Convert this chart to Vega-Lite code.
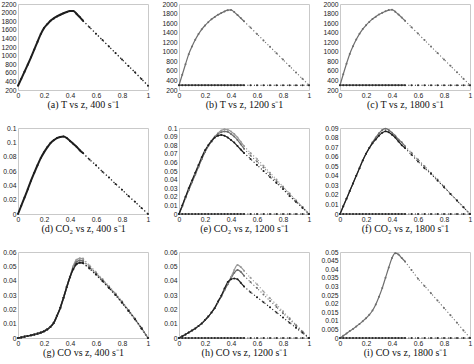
{
"$schema":"https://vega.github.io/schema/vega-lite/v6.json",
"padding":{"left":0,"top":0,"right":3,"bottom":0},
"columns":3,
"bounds":"flush",
"spacing":{"row":38,"column":31},
"resolve":{"scale":{"x":"independent","y":"independent"}},
"datasets":{
"a":[{"s":"s3","z":0,"v":300},{"s":"s3","z":0.025,"v":460},{"s":"s3","z":0.05,"v":625},{"s":"s3","z":0.075,"v":790},{"s":"s3","z":0.1,"v":960},{"s":"s3","z":0.125,"v":1140},{"s":"s3","z":0.15,"v":1320},{"s":"s3","z":0.175,"v":1500},{"s":"s3","z":0.2,"v":1640},{"s":"s3","z":0.225,"v":1730},{"s":"s3","z":0.25,"v":1810},{"s":"s3","z":0.275,"v":1865},{"s":"s3","z":0.3,"v":1910},{"s":"s3","z":0.325,"v":1950},{"s":"s3","z":0.35,"v":1985},{"s":"s3","z":0.375,"v":2015},{"s":"s3","z":0.4,"v":2035},{"s":"s3","z":0.425,"v":2040},{"s":"s3","z":0.45,"v":1975},{"s":"s3","z":0.475,"v":1895},{"s":"s3","z":0.5,"v":1810},{"s":"s3","z":0.55,"v":1660},{"s":"s3","z":0.6,"v":1510},{"s":"s3","z":0.65,"v":1360},{"s":"s3","z":0.7,"v":1210},{"s":"s3","z":0.75,"v":1060},{"s":"s3","z":0.8,"v":910},{"s":"s3","z":0.85,"v":760},{"s":"s3","z":0.9,"v":610},{"s":"s3","z":0.95,"v":455},{"s":"s3","z":1,"v":300}],
"b":[{"s":"s2","z":0,"v":300},{"s":"s2","z":0.025,"v":520},{"s":"s2","z":0.05,"v":740},{"s":"s2","z":0.075,"v":950},{"s":"s2","z":0.1,"v":1110},{"s":"s2","z":0.125,"v":1250},{"s":"s2","z":0.15,"v":1370},{"s":"s2","z":0.175,"v":1470},{"s":"s2","z":0.2,"v":1550},{"s":"s2","z":0.225,"v":1620},{"s":"s2","z":0.25,"v":1680},{"s":"s2","z":0.275,"v":1730},{"s":"s2","z":0.3,"v":1775},{"s":"s2","z":0.325,"v":1810},{"s":"s2","z":0.35,"v":1845},{"s":"s2","z":0.375,"v":1870},{"s":"s2","z":0.4,"v":1875},{"s":"s2","z":0.425,"v":1830},{"s":"s2","z":0.45,"v":1770},{"s":"s2","z":0.475,"v":1705},{"s":"s2","z":0.5,"v":1640},{"s":"s2","z":0.55,"v":1506},{"s":"s2","z":0.6,"v":1372},{"s":"s2","z":0.65,"v":1238},{"s":"s2","z":0.7,"v":1104},{"s":"s2","z":0.75,"v":970},{"s":"s2","z":0.8,"v":836},{"s":"s2","z":0.85,"v":702},{"s":"s2","z":0.9,"v":568},{"s":"s2","z":0.95,"v":434},{"s":"s2","z":1,"v":300},
{"s":"f","z":0,"v":300},{"s":"f","z":0.025,"v":300},{"s":"f","z":0.05,"v":300},{"s":"f","z":0.075,"v":300},{"s":"f","z":0.1,"v":300},{"s":"f","z":0.125,"v":300},{"s":"f","z":0.15,"v":300},{"s":"f","z":0.175,"v":300},{"s":"f","z":0.2,"v":300},{"s":"f","z":0.225,"v":300},{"s":"f","z":0.25,"v":300},{"s":"f","z":0.275,"v":300},{"s":"f","z":0.3,"v":300},{"s":"f","z":0.325,"v":300},{"s":"f","z":0.35,"v":300},{"s":"f","z":0.375,"v":300},{"s":"f","z":0.4,"v":300},{"s":"f","z":0.425,"v":300},{"s":"f","z":0.45,"v":300},{"s":"f","z":0.475,"v":300},{"s":"f","z":0.5,"v":300},{"s":"f","z":0.55,"v":300},{"s":"f","z":0.6,"v":300},{"s":"f","z":0.65,"v":300},{"s":"f","z":0.7,"v":300},{"s":"f","z":0.75,"v":300},{"s":"f","z":0.8,"v":300},{"s":"f","z":0.85,"v":300},{"s":"f","z":0.9,"v":300},{"s":"f","z":0.95,"v":300},{"s":"f","z":1,"v":300}],
"c":[{"s":"s2","z":0,"v":300},{"s":"s2","z":0.025,"v":530},{"s":"s2","z":0.05,"v":750},{"s":"s2","z":0.075,"v":955},{"s":"s2","z":0.1,"v":1115},{"s":"s2","z":0.125,"v":1255},{"s":"s2","z":0.15,"v":1375},{"s":"s2","z":0.175,"v":1475},{"s":"s2","z":0.2,"v":1555},{"s":"s2","z":0.225,"v":1625},{"s":"s2","z":0.25,"v":1685},{"s":"s2","z":0.275,"v":1735},{"s":"s2","z":0.3,"v":1780},{"s":"s2","z":0.325,"v":1815},{"s":"s2","z":0.35,"v":1848},{"s":"s2","z":0.375,"v":1872},{"s":"s2","z":0.4,"v":1880},{"s":"s2","z":0.425,"v":1840},{"s":"s2","z":0.45,"v":1780},{"s":"s2","z":0.475,"v":1715},{"s":"s2","z":0.5,"v":1650},{"s":"s2","z":0.55,"v":1515},{"s":"s2","z":0.6,"v":1380},{"s":"s2","z":0.65,"v":1245},{"s":"s2","z":0.7,"v":1110},{"s":"s2","z":0.75,"v":975},{"s":"s2","z":0.8,"v":840},{"s":"s2","z":0.85,"v":705},{"s":"s2","z":0.9,"v":570},{"s":"s2","z":0.95,"v":435},{"s":"s2","z":1,"v":300},
{"s":"f","z":0,"v":300},{"s":"f","z":0.025,"v":300},{"s":"f","z":0.05,"v":300},{"s":"f","z":0.075,"v":300},{"s":"f","z":0.1,"v":300},{"s":"f","z":0.125,"v":300},{"s":"f","z":0.15,"v":300},{"s":"f","z":0.175,"v":300},{"s":"f","z":0.2,"v":300},{"s":"f","z":0.225,"v":300},{"s":"f","z":0.25,"v":300},{"s":"f","z":0.275,"v":300},{"s":"f","z":0.3,"v":300},{"s":"f","z":0.325,"v":300},{"s":"f","z":0.35,"v":300},{"s":"f","z":0.375,"v":300},{"s":"f","z":0.4,"v":300},{"s":"f","z":0.425,"v":300},{"s":"f","z":0.45,"v":300},{"s":"f","z":0.475,"v":300},{"s":"f","z":0.5,"v":300},{"s":"f","z":0.55,"v":300},{"s":"f","z":0.6,"v":300},{"s":"f","z":0.65,"v":300},{"s":"f","z":0.7,"v":300},{"s":"f","z":0.75,"v":300},{"s":"f","z":0.8,"v":300},{"s":"f","z":0.85,"v":300},{"s":"f","z":0.9,"v":300},{"s":"f","z":0.95,"v":300},{"s":"f","z":1,"v":300}],
"d":[{"s":"s3","z":0,"v":0},{"s":"s3","z":0.025,"v":0.0115},{"s":"s3","z":0.05,"v":0.023},{"s":"s3","z":0.075,"v":0.0345},{"s":"s3","z":0.1,"v":0.0465},{"s":"s3","z":0.125,"v":0.0575},{"s":"s3","z":0.15,"v":0.068},{"s":"s3","z":0.175,"v":0.078},{"s":"s3","z":0.2,"v":0.086},{"s":"s3","z":0.225,"v":0.093},{"s":"s3","z":0.25,"v":0.099},{"s":"s3","z":0.275,"v":0.103},{"s":"s3","z":0.3,"v":0.106},{"s":"s3","z":0.325,"v":0.1075},{"s":"s3","z":0.35,"v":0.108},{"s":"s3","z":0.375,"v":0.106},{"s":"s3","z":0.4,"v":0.102},{"s":"s3","z":0.425,"v":0.098},{"s":"s3","z":0.45,"v":0.094},{"s":"s3","z":0.475,"v":0.089},{"s":"s3","z":0.5,"v":0.085},{"s":"s3","z":0.55,"v":0.076},{"s":"s3","z":0.6,"v":0.068},{"s":"s3","z":0.65,"v":0.059},{"s":"s3","z":0.7,"v":0.051},{"s":"s3","z":0.75,"v":0.042},{"s":"s3","z":0.8,"v":0.034},{"s":"s3","z":0.85,"v":0.025},{"s":"s3","z":0.9,"v":0.017},{"s":"s3","z":0.95,"v":0.0085},{"s":"s3","z":1,"v":0}],
"e":[{"s":"s1","z":0,"v":0},{"s":"s1","z":0.025,"v":0.009},{"s":"s1","z":0.05,"v":0.019},{"s":"s1","z":0.075,"v":0.028},{"s":"s1","z":0.1,"v":0.037},{"s":"s1","z":0.125,"v":0.046},{"s":"s1","z":0.15,"v":0.055},{"s":"s1","z":0.175,"v":0.064},{"s":"s1","z":0.2,"v":0.072},{"s":"s1","z":0.225,"v":0.079},{"s":"s1","z":0.25,"v":0.085},{"s":"s1","z":0.275,"v":0.09},{"s":"s1","z":0.3,"v":0.094},{"s":"s1","z":0.325,"v":0.097},{"s":"s1","z":0.35,"v":0.0985},{"s":"s1","z":0.375,"v":0.098},{"s":"s1","z":0.4,"v":0.096},{"s":"s1","z":0.425,"v":0.093},{"s":"s1","z":0.45,"v":0.089},{"s":"s1","z":0.475,"v":0.084},{"s":"s1","z":0.5,"v":0.079},{"s":"s1","z":0.55,"v":0.071},{"s":"s1","z":0.6,"v":0.064},{"s":"s1","z":0.65,"v":0.056},{"s":"s1","z":0.7,"v":0.048},{"s":"s1","z":0.75,"v":0.04},{"s":"s1","z":0.8,"v":0.032},{"s":"s1","z":0.85,"v":0.024},{"s":"s1","z":0.9,"v":0.016},{"s":"s1","z":0.95,"v":0.008},{"s":"s1","z":1,"v":0},
{"s":"s2","z":0,"v":0},{"s":"s2","z":0.025,"v":0.009},{"s":"s2","z":0.05,"v":0.019},{"s":"s2","z":0.075,"v":0.028},{"s":"s2","z":0.1,"v":0.037},{"s":"s2","z":0.125,"v":0.046},{"s":"s2","z":0.15,"v":0.055},{"s":"s2","z":0.175,"v":0.064},{"s":"s2","z":0.2,"v":0.072},{"s":"s2","z":0.225,"v":0.079},{"s":"s2","z":0.25,"v":0.084},{"s":"s2","z":0.275,"v":0.089},{"s":"s2","z":0.3,"v":0.093},{"s":"s2","z":0.325,"v":0.095},{"s":"s2","z":0.35,"v":0.096},{"s":"s2","z":0.375,"v":0.0955},{"s":"s2","z":0.4,"v":0.093},{"s":"s2","z":0.425,"v":0.09},{"s":"s2","z":0.45,"v":0.086},{"s":"s2","z":0.475,"v":0.081},{"s":"s2","z":0.5,"v":0.076},{"s":"s2","z":0.55,"v":0.068},{"s":"s2","z":0.6,"v":0.061},{"s":"s2","z":0.65,"v":0.054},{"s":"s2","z":0.7,"v":0.046},{"s":"s2","z":0.75,"v":0.038},{"s":"s2","z":0.8,"v":0.031},{"s":"s2","z":0.85,"v":0.023},{"s":"s2","z":0.9,"v":0.015},{"s":"s2","z":0.95,"v":0.008},{"s":"s2","z":1,"v":0},
{"s":"s3","z":0,"v":0},{"s":"s3","z":0.025,"v":0.01},{"s":"s3","z":0.05,"v":0.02},{"s":"s3","z":0.075,"v":0.03},{"s":"s3","z":0.1,"v":0.039},{"s":"s3","z":0.125,"v":0.048},{"s":"s3","z":0.15,"v":0.057},{"s":"s3","z":0.175,"v":0.066},{"s":"s3","z":0.2,"v":0.074},{"s":"s3","z":0.225,"v":0.08},{"s":"s3","z":0.25,"v":0.085},{"s":"s3","z":0.275,"v":0.089},{"s":"s3","z":0.3,"v":0.091},{"s":"s3","z":0.325,"v":0.092},{"s":"s3","z":0.35,"v":0.091},{"s":"s3","z":0.375,"v":0.089},{"s":"s3","z":0.4,"v":0.086},{"s":"s3","z":0.425,"v":0.083},{"s":"s3","z":0.45,"v":0.079},{"s":"s3","z":0.475,"v":0.075},{"s":"s3","z":0.5,"v":0.071},{"s":"s3","z":0.55,"v":0.064},{"s":"s3","z":0.6,"v":0.057},{"s":"s3","z":0.65,"v":0.05},{"s":"s3","z":0.7,"v":0.043},{"s":"s3","z":0.75,"v":0.036},{"s":"s3","z":0.8,"v":0.029},{"s":"s3","z":0.85,"v":0.021},{"s":"s3","z":0.9,"v":0.014},{"s":"s3","z":0.95,"v":0.007},{"s":"s3","z":1,"v":0},
{"s":"f","z":0,"v":0},{"s":"f","z":0.025,"v":0},{"s":"f","z":0.05,"v":0},{"s":"f","z":0.075,"v":0},{"s":"f","z":0.1,"v":0},{"s":"f","z":0.125,"v":0},{"s":"f","z":0.15,"v":0},{"s":"f","z":0.175,"v":0},{"s":"f","z":0.2,"v":0},{"s":"f","z":0.225,"v":0},{"s":"f","z":0.25,"v":0},{"s":"f","z":0.275,"v":0},{"s":"f","z":0.3,"v":0},{"s":"f","z":0.325,"v":0},{"s":"f","z":0.35,"v":0},{"s":"f","z":0.375,"v":0},{"s":"f","z":0.4,"v":0},{"s":"f","z":0.425,"v":0},{"s":"f","z":0.45,"v":0},{"s":"f","z":0.475,"v":0},{"s":"f","z":0.5,"v":0},{"s":"f","z":0.55,"v":0},{"s":"f","z":0.6,"v":0},{"s":"f","z":0.65,"v":0},{"s":"f","z":0.7,"v":0},{"s":"f","z":0.75,"v":0},{"s":"f","z":0.8,"v":0},{"s":"f","z":0.85,"v":0},{"s":"f","z":0.9,"v":0},{"s":"f","z":0.95,"v":0},{"s":"f","z":1,"v":0}],
"f":[{"s":"s2","z":0,"v":0},{"s":"s2","z":0.025,"v":0.008},{"s":"s2","z":0.05,"v":0.016},{"s":"s2","z":0.075,"v":0.024},{"s":"s2","z":0.1,"v":0.032},{"s":"s2","z":0.125,"v":0.04},{"s":"s2","z":0.15,"v":0.048},{"s":"s2","z":0.175,"v":0.056},{"s":"s2","z":0.2,"v":0.063},{"s":"s2","z":0.225,"v":0.069},{"s":"s2","z":0.25,"v":0.075},{"s":"s2","z":0.275,"v":0.08},{"s":"s2","z":0.3,"v":0.0845},{"s":"s2","z":0.325,"v":0.088},{"s":"s2","z":0.35,"v":0.0893},{"s":"s2","z":0.375,"v":0.088},{"s":"s2","z":0.4,"v":0.085},{"s":"s2","z":0.425,"v":0.082},{"s":"s2","z":0.45,"v":0.078},{"s":"s2","z":0.475,"v":0.075},{"s":"s2","z":0.5,"v":0.071},{"s":"s2","z":0.55,"v":0.064},{"s":"s2","z":0.6,"v":0.057},{"s":"s2","z":0.65,"v":0.05},{"s":"s2","z":0.7,"v":0.043},{"s":"s2","z":0.75,"v":0.036},{"s":"s2","z":0.8,"v":0.029},{"s":"s2","z":0.85,"v":0.021},{"s":"s2","z":0.9,"v":0.014},{"s":"s2","z":0.95,"v":0.007},{"s":"s2","z":1,"v":0},
{"s":"s3","z":0,"v":0},{"s":"s3","z":0.025,"v":0.008},{"s":"s3","z":0.05,"v":0.016},{"s":"s3","z":0.075,"v":0.024},{"s":"s3","z":0.1,"v":0.032},{"s":"s3","z":0.125,"v":0.04},{"s":"s3","z":0.15,"v":0.048},{"s":"s3","z":0.175,"v":0.056},{"s":"s3","z":0.2,"v":0.063},{"s":"s3","z":0.225,"v":0.069},{"s":"s3","z":0.25,"v":0.074},{"s":"s3","z":0.275,"v":0.078},{"s":"s3","z":0.3,"v":0.082},{"s":"s3","z":0.325,"v":0.085},{"s":"s3","z":0.35,"v":0.0865},{"s":"s3","z":0.375,"v":0.0855},{"s":"s3","z":0.4,"v":0.083},{"s":"s3","z":0.425,"v":0.08},{"s":"s3","z":0.45,"v":0.076},{"s":"s3","z":0.475,"v":0.072},{"s":"s3","z":0.5,"v":0.069},{"s":"s3","z":0.55,"v":0.062},{"s":"s3","z":0.6,"v":0.055},{"s":"s3","z":0.65,"v":0.048},{"s":"s3","z":0.7,"v":0.042},{"s":"s3","z":0.75,"v":0.035},{"s":"s3","z":0.8,"v":0.028},{"s":"s3","z":0.85,"v":0.021},{"s":"s3","z":0.9,"v":0.014},{"s":"s3","z":0.95,"v":0.007},{"s":"s3","z":1,"v":0},
{"s":"f","z":0,"v":0},{"s":"f","z":0.025,"v":0},{"s":"f","z":0.05,"v":0},{"s":"f","z":0.075,"v":0},{"s":"f","z":0.1,"v":0},{"s":"f","z":0.125,"v":0},{"s":"f","z":0.15,"v":0},{"s":"f","z":0.175,"v":0},{"s":"f","z":0.2,"v":0},{"s":"f","z":0.225,"v":0},{"s":"f","z":0.25,"v":0},{"s":"f","z":0.275,"v":0},{"s":"f","z":0.3,"v":0},{"s":"f","z":0.325,"v":0},{"s":"f","z":0.35,"v":0},{"s":"f","z":0.375,"v":0},{"s":"f","z":0.4,"v":0},{"s":"f","z":0.425,"v":0},{"s":"f","z":0.45,"v":0},{"s":"f","z":0.475,"v":0},{"s":"f","z":0.5,"v":0},{"s":"f","z":0.55,"v":0},{"s":"f","z":0.6,"v":0},{"s":"f","z":0.65,"v":0},{"s":"f","z":0.7,"v":0},{"s":"f","z":0.75,"v":0},{"s":"f","z":0.8,"v":0},{"s":"f","z":0.85,"v":0},{"s":"f","z":0.9,"v":0},{"s":"f","z":0.95,"v":0},{"s":"f","z":1,"v":0}],
"g":[{"s":"s1","z":0,"v":0},{"s":"s1","z":0.025,"v":0.0004},{"s":"s1","z":0.05,"v":0.0009},{"s":"s1","z":0.075,"v":0.0014},{"s":"s1","z":0.1,"v":0.0019},{"s":"s1","z":0.125,"v":0.0024},{"s":"s1","z":0.15,"v":0.003},{"s":"s1","z":0.175,"v":0.0037},{"s":"s1","z":0.2,"v":0.0047},{"s":"s1","z":0.225,"v":0.006},{"s":"s1","z":0.25,"v":0.0078},{"s":"s1","z":0.275,"v":0.0105},{"s":"s1","z":0.3,"v":0.0155},{"s":"s1","z":0.325,"v":0.021},{"s":"s1","z":0.35,"v":0.028},{"s":"s1","z":0.375,"v":0.0355},{"s":"s1","z":0.4,"v":0.0425},{"s":"s1","z":0.425,"v":0.05},{"s":"s1","z":0.45,"v":0.0545},{"s":"s1","z":0.475,"v":0.0555},{"s":"s1","z":0.5,"v":0.0553},{"s":"s1","z":0.55,"v":0.0505},{"s":"s1","z":0.6,"v":0.0458},{"s":"s1","z":0.65,"v":0.041},{"s":"s1","z":0.7,"v":0.036},{"s":"s1","z":0.75,"v":0.031},{"s":"s1","z":0.8,"v":0.0255},{"s":"s1","z":0.85,"v":0.0195},{"s":"s1","z":0.9,"v":0.0135},{"s":"s1","z":0.95,"v":0.007},{"s":"s1","z":1,"v":0},
{"s":"s2","z":0,"v":0},{"s":"s2","z":0.025,"v":0.0004},{"s":"s2","z":0.05,"v":0.0009},{"s":"s2","z":0.075,"v":0.0014},{"s":"s2","z":0.1,"v":0.0019},{"s":"s2","z":0.125,"v":0.0024},{"s":"s2","z":0.15,"v":0.003},{"s":"s2","z":0.175,"v":0.0037},{"s":"s2","z":0.2,"v":0.0047},{"s":"s2","z":0.225,"v":0.006},{"s":"s2","z":0.25,"v":0.0078},{"s":"s2","z":0.275,"v":0.0105},{"s":"s2","z":0.3,"v":0.0155},{"s":"s2","z":0.325,"v":0.021},{"s":"s2","z":0.35,"v":0.028},{"s":"s2","z":0.375,"v":0.0355},{"s":"s2","z":0.4,"v":0.0425},{"s":"s2","z":0.425,"v":0.049},{"s":"s2","z":0.45,"v":0.053},{"s":"s2","z":0.475,"v":0.054},{"s":"s2","z":0.5,"v":0.0538},{"s":"s2","z":0.55,"v":0.0495},{"s":"s2","z":0.6,"v":0.045},{"s":"s2","z":0.65,"v":0.0403},{"s":"s2","z":0.7,"v":0.0354},{"s":"s2","z":0.75,"v":0.0305},{"s":"s2","z":0.8,"v":0.025},{"s":"s2","z":0.85,"v":0.0192},{"s":"s2","z":0.9,"v":0.0132},{"s":"s2","z":0.95,"v":0.0068},{"s":"s2","z":1,"v":0},
{"s":"s3","z":0,"v":0},{"s":"s3","z":0.025,"v":0.0004},{"s":"s3","z":0.05,"v":0.0009},{"s":"s3","z":0.075,"v":0.0014},{"s":"s3","z":0.1,"v":0.0019},{"s":"s3","z":0.125,"v":0.0024},{"s":"s3","z":0.15,"v":0.003},{"s":"s3","z":0.175,"v":0.0037},{"s":"s3","z":0.2,"v":0.0047},{"s":"s3","z":0.225,"v":0.006},{"s":"s3","z":0.25,"v":0.0078},{"s":"s3","z":0.275,"v":0.0105},{"s":"s3","z":0.3,"v":0.0155},{"s":"s3","z":0.325,"v":0.021},{"s":"s3","z":0.35,"v":0.028},{"s":"s3","z":0.375,"v":0.0355},{"s":"s3","z":0.4,"v":0.0425},{"s":"s3","z":0.425,"v":0.048},{"s":"s3","z":0.45,"v":0.0515},{"s":"s3","z":0.475,"v":0.0525},{"s":"s3","z":0.5,"v":0.0523},{"s":"s3","z":0.55,"v":0.0485},{"s":"s3","z":0.6,"v":0.0443},{"s":"s3","z":0.65,"v":0.0397},{"s":"s3","z":0.7,"v":0.0349},{"s":"s3","z":0.75,"v":0.03},{"s":"s3","z":0.8,"v":0.0246},{"s":"s3","z":0.85,"v":0.0189},{"s":"s3","z":0.9,"v":0.013},{"s":"s3","z":0.95,"v":0.0067},{"s":"s3","z":1,"v":0}],
"h":[{"s":"s1","z":0,"v":0},{"s":"s1","z":0.025,"v":0.0012},{"s":"s1","z":0.05,"v":0.0025},{"s":"s1","z":0.075,"v":0.0038},{"s":"s1","z":0.1,"v":0.0052},{"s":"s1","z":0.125,"v":0.0067},{"s":"s1","z":0.15,"v":0.0083},{"s":"s1","z":0.175,"v":0.0102},{"s":"s1","z":0.2,"v":0.0125},{"s":"s1","z":0.225,"v":0.015},{"s":"s1","z":0.25,"v":0.0178},{"s":"s1","z":0.275,"v":0.021},{"s":"s1","z":0.3,"v":0.025},{"s":"s1","z":0.325,"v":0.029},{"s":"s1","z":0.35,"v":0.0335},{"s":"s1","z":0.375,"v":0.038},{"s":"s1","z":0.4,"v":0.0425},{"s":"s1","z":0.425,"v":0.0475},{"s":"s1","z":0.45,"v":0.051},{"s":"s1","z":0.475,"v":0.0495},{"s":"s1","z":0.5,"v":0.047},{"s":"s1","z":0.55,"v":0.042},{"s":"s1","z":0.6,"v":0.0375},{"s":"s1","z":0.65,"v":0.0325},{"s":"s1","z":0.7,"v":0.0278},{"s":"s1","z":0.75,"v":0.0232},{"s":"s1","z":0.8,"v":0.0186},{"s":"s1","z":0.85,"v":0.0139},{"s":"s1","z":0.9,"v":0.0093},{"s":"s1","z":0.95,"v":0.0046},{"s":"s1","z":1,"v":0},
{"s":"s2","z":0,"v":0},{"s":"s2","z":0.025,"v":0.0012},{"s":"s2","z":0.05,"v":0.0025},{"s":"s2","z":0.075,"v":0.0038},{"s":"s2","z":0.1,"v":0.0052},{"s":"s2","z":0.125,"v":0.0067},{"s":"s2","z":0.15,"v":0.0083},{"s":"s2","z":0.175,"v":0.0102},{"s":"s2","z":0.2,"v":0.0125},{"s":"s2","z":0.225,"v":0.015},{"s":"s2","z":0.25,"v":0.0178},{"s":"s2","z":0.275,"v":0.021},{"s":"s2","z":0.3,"v":0.025},{"s":"s2","z":0.325,"v":0.029},{"s":"s2","z":0.35,"v":0.0335},{"s":"s2","z":0.375,"v":0.0375},{"s":"s2","z":0.4,"v":0.0415},{"s":"s2","z":0.425,"v":0.0455},{"s":"s2","z":0.45,"v":0.0475},{"s":"s2","z":0.475,"v":0.0462},{"s":"s2","z":0.5,"v":0.0435},{"s":"s2","z":0.55,"v":0.039},{"s":"s2","z":0.6,"v":0.0348},{"s":"s2","z":0.65,"v":0.0303},{"s":"s2","z":0.7,"v":0.0259},{"s":"s2","z":0.75,"v":0.0216},{"s":"s2","z":0.8,"v":0.0173},{"s":"s2","z":0.85,"v":0.013},{"s":"s2","z":0.9,"v":0.0086},{"s":"s2","z":0.95,"v":0.0043},{"s":"s2","z":1,"v":0},
{"s":"s3","z":0,"v":0},{"s":"s3","z":0.025,"v":0.0012},{"s":"s3","z":0.05,"v":0.0025},{"s":"s3","z":0.075,"v":0.0038},{"s":"s3","z":0.1,"v":0.0052},{"s":"s3","z":0.125,"v":0.0067},{"s":"s3","z":0.15,"v":0.0083},{"s":"s3","z":0.175,"v":0.0102},{"s":"s3","z":0.2,"v":0.0125},{"s":"s3","z":0.225,"v":0.015},{"s":"s3","z":0.25,"v":0.0178},{"s":"s3","z":0.275,"v":0.021},{"s":"s3","z":0.3,"v":0.0255},{"s":"s3","z":0.325,"v":0.0295},{"s":"s3","z":0.35,"v":0.0345},{"s":"s3","z":0.375,"v":0.039},{"s":"s3","z":0.4,"v":0.041},{"s":"s3","z":0.425,"v":0.0415},{"s":"s3","z":0.45,"v":0.041},{"s":"s3","z":0.475,"v":0.0385},{"s":"s3","z":0.5,"v":0.036},{"s":"s3","z":0.55,"v":0.032},{"s":"s3","z":0.6,"v":0.0285},{"s":"s3","z":0.65,"v":0.025},{"s":"s3","z":0.7,"v":0.0214},{"s":"s3","z":0.75,"v":0.0178},{"s":"s3","z":0.8,"v":0.0143},{"s":"s3","z":0.85,"v":0.0107},{"s":"s3","z":0.9,"v":0.0071},{"s":"s3","z":0.95,"v":0.0036},{"s":"s3","z":1,"v":0},
{"s":"f","z":0,"v":0},{"s":"f","z":0.025,"v":0},{"s":"f","z":0.05,"v":0},{"s":"f","z":0.075,"v":0},{"s":"f","z":0.1,"v":0},{"s":"f","z":0.125,"v":0},{"s":"f","z":0.15,"v":0},{"s":"f","z":0.175,"v":0},{"s":"f","z":0.2,"v":0},{"s":"f","z":0.225,"v":0},{"s":"f","z":0.25,"v":0},{"s":"f","z":0.275,"v":0},{"s":"f","z":0.3,"v":0},{"s":"f","z":0.325,"v":0},{"s":"f","z":0.35,"v":0},{"s":"f","z":0.375,"v":0},{"s":"f","z":0.4,"v":0},{"s":"f","z":0.425,"v":0},{"s":"f","z":0.45,"v":0},{"s":"f","z":0.475,"v":0},{"s":"f","z":0.5,"v":0},{"s":"f","z":0.55,"v":0},{"s":"f","z":0.6,"v":0},{"s":"f","z":0.65,"v":0},{"s":"f","z":0.7,"v":0},{"s":"f","z":0.75,"v":0},{"s":"f","z":0.8,"v":0},{"s":"f","z":0.85,"v":0},{"s":"f","z":0.9,"v":0},{"s":"f","z":0.95,"v":0},{"s":"f","z":1,"v":0}],
"i":[{"s":"s2","z":0,"v":0},{"s":"s2","z":0.025,"v":0.0013},{"s":"s2","z":0.05,"v":0.0026},{"s":"s2","z":0.075,"v":0.004},{"s":"s2","z":0.1,"v":0.0053},{"s":"s2","z":0.125,"v":0.0067},{"s":"s2","z":0.15,"v":0.0082},{"s":"s2","z":0.175,"v":0.0098},{"s":"s2","z":0.2,"v":0.0115},{"s":"s2","z":0.225,"v":0.0135},{"s":"s2","z":0.25,"v":0.016},{"s":"s2","z":0.275,"v":0.0195},{"s":"s2","z":0.3,"v":0.024},{"s":"s2","z":0.325,"v":0.029},{"s":"s2","z":0.35,"v":0.035},{"s":"s2","z":0.375,"v":0.041},{"s":"s2","z":0.4,"v":0.0465},{"s":"s2","z":0.425,"v":0.0493},{"s":"s2","z":0.45,"v":0.0485},{"s":"s2","z":0.475,"v":0.0465},{"s":"s2","z":0.5,"v":0.0445},{"s":"s2","z":0.55,"v":0.0395},{"s":"s2","z":0.6,"v":0.0345},{"s":"s2","z":0.65,"v":0.0303},{"s":"s2","z":0.7,"v":0.026},{"s":"s2","z":0.75,"v":0.0218},{"s":"s2","z":0.8,"v":0.0175},{"s":"s2","z":0.85,"v":0.0132},{"s":"s2","z":0.9,"v":0.0088},{"s":"s2","z":0.95,"v":0.0044},{"s":"s2","z":1,"v":0},
{"s":"f","z":0,"v":0},{"s":"f","z":0.025,"v":0},{"s":"f","z":0.05,"v":0},{"s":"f","z":0.075,"v":0},{"s":"f","z":0.1,"v":0},{"s":"f","z":0.125,"v":0},{"s":"f","z":0.15,"v":0},{"s":"f","z":0.175,"v":0},{"s":"f","z":0.2,"v":0},{"s":"f","z":0.225,"v":0},{"s":"f","z":0.25,"v":0},{"s":"f","z":0.275,"v":0},{"s":"f","z":0.3,"v":0},{"s":"f","z":0.325,"v":0},{"s":"f","z":0.35,"v":0},{"s":"f","z":0.375,"v":0},{"s":"f","z":0.4,"v":0},{"s":"f","z":0.425,"v":0},{"s":"f","z":0.45,"v":0},{"s":"f","z":0.475,"v":0},{"s":"f","z":0.5,"v":0},{"s":"f","z":0.55,"v":0},{"s":"f","z":0.6,"v":0},{"s":"f","z":0.65,"v":0},{"s":"f","z":0.7,"v":0},{"s":"f","z":0.75,"v":0},{"s":"f","z":0.8,"v":0},{"s":"f","z":0.85,"v":0},{"s":"f","z":0.9,"v":0},{"s":"f","z":0.95,"v":0},{"s":"f","z":1,"v":0}]
},
"concat":[
{"width":130,"height":86,"data":{"name":"a"},
 "encoding":{"x":{"field":"z","type":"quantitative","scale":{"domain":[0,1],"nice":false},"axis":{"values":[0,0.2,0.4,0.6,0.8,1],"format":"~g","title":"(a) T vs z, 400 s⁻1"}},
  "y":{"field":"v","type":"quantitative","scale":{"domain":[200,2200],"nice":false,"zero":false},"axis":{"values":[200,400,600,800,1000,1200,1400,1600,1800,2000,2200],"format":"d","title":null}},
  "color":{"field":"s","type":"nominal","scale":{"domain":["s1","s2","s3","f"],"range":["#9a9a9a","#6e6e6e","#1e1e1e","#2a2a2a"]},"legend":null}},
 "layer":[{"transform":[{"filter":"datum.z <= 0.5"}],"mark":{"type":"line","strokeWidth":2,"interpolate":"monotone"}},{"transform":[{"filter":"datum.z >= 0.5"}],"mark":{"type":"line","strokeWidth":1.3,"strokeDash":[1.3,2.2]}},{"mark":{"type":"circle","size":4,"opacity":1}}]},
{"width":130,"height":86,"data":{"name":"b"},
 "encoding":{"x":{"field":"z","type":"quantitative","scale":{"domain":[0,1],"nice":false},"axis":{"values":[0,0.2,0.4,0.6,0.8,1],"format":"~g","title":"(b) T vs z, 1200 s⁻1"}},
  "y":{"field":"v","type":"quantitative","scale":{"domain":[200,2000],"nice":false,"zero":false},"axis":{"values":[200,400,600,800,1000,1200,1400,1600,1800,2000],"format":"d","title":null}},
  "color":{"field":"s","type":"nominal","scale":{"domain":["s1","s2","s3","f"],"range":["#9a9a9a","#6e6e6e","#1e1e1e","#2a2a2a"]},"legend":null}},
 "layer":[{"transform":[{"filter":"datum.z <= 0.5"}],"mark":{"type":"line","strokeWidth":1.2,"interpolate":"monotone"}},{"transform":[{"filter":"datum.z >= 0.5"}],"mark":{"type":"line","strokeWidth":1.1,"strokeDash":[1.1,2.2]}},{"mark":{"type":"circle","size":4,"opacity":1}}]},
{"width":130,"height":86,"data":{"name":"c"},
 "encoding":{"x":{"field":"z","type":"quantitative","scale":{"domain":[0,1],"nice":false},"axis":{"values":[0,0.2,0.4,0.6,0.8,1],"format":"~g","title":"(c) T vs z, 1800 s⁻1"}},
  "y":{"field":"v","type":"quantitative","scale":{"domain":[200,2000],"nice":false,"zero":false},"axis":{"values":[200,400,600,800,1000,1200,1400,1600,1800,2000],"format":"d","title":null}},
  "color":{"field":"s","type":"nominal","scale":{"domain":["s1","s2","s3","f"],"range":["#9a9a9a","#6e6e6e","#1e1e1e","#2a2a2a"]},"legend":null}},
 "layer":[{"transform":[{"filter":"datum.z <= 0.5"}],"mark":{"type":"line","strokeWidth":1.2,"interpolate":"monotone"}},{"transform":[{"filter":"datum.z >= 0.5"}],"mark":{"type":"line","strokeWidth":1.1,"strokeDash":[1.1,2.2]}},{"mark":{"type":"circle","size":4,"opacity":1}}]},
{"width":130,"height":86,"data":{"name":"d"},
 "encoding":{"x":{"field":"z","type":"quantitative","scale":{"domain":[0,1],"nice":false},"axis":{"values":[0,0.2,0.4,0.6,0.8,1],"format":"~g","title":"(d) CO₂ vs z, 400 s⁻1"}},
  "y":{"field":"v","type":"quantitative","scale":{"domain":[0,0.12],"nice":false},"axis":{"values":[0,0.02,0.04,0.06,0.08,0.1,0.12],"format":"~g","title":null}},
  "color":{"field":"s","type":"nominal","scale":{"domain":["s1","s2","s3","f"],"range":["#9a9a9a","#6e6e6e","#1e1e1e","#2a2a2a"]},"legend":null}},
 "layer":[{"transform":[{"filter":"datum.z <= 0.5"}],"mark":{"type":"line","strokeWidth":2,"interpolate":"monotone"}},{"transform":[{"filter":"datum.z >= 0.5"}],"mark":{"type":"line","strokeWidth":1.3,"strokeDash":[1.3,2.2]}},{"mark":{"type":"circle","size":4,"opacity":1}}]},
{"width":130,"height":86,"data":{"name":"e"},
 "encoding":{"x":{"field":"z","type":"quantitative","scale":{"domain":[0,1],"nice":false},"axis":{"values":[0,0.2,0.4,0.6,0.8,1],"format":"~g","title":"(e) CO₂ vs z, 1200 s⁻1"}},
  "y":{"field":"v","type":"quantitative","scale":{"domain":[0,0.1],"nice":false},"axis":{"values":[0,0.01,0.02,0.03,0.04,0.05,0.06,0.07,0.08,0.09,0.1],"format":"~g","title":null}},
  "color":{"field":"s","type":"nominal","scale":{"domain":["s1","s2","s3","f"],"range":["#9a9a9a","#6e6e6e","#1e1e1e","#2a2a2a"]},"legend":null}},
 "layer":[{"transform":[{"filter":"datum.z <= 0.5"}],"mark":{"type":"line","strokeWidth":1.2,"interpolate":"monotone"}},{"transform":[{"filter":"datum.z >= 0.5"}],"mark":{"type":"line","strokeWidth":1.1,"strokeDash":[1.1,2.2]}},{"mark":{"type":"circle","size":4,"opacity":1}}]},
{"width":130,"height":86,"data":{"name":"f"},
 "encoding":{"x":{"field":"z","type":"quantitative","scale":{"domain":[0,1],"nice":false},"axis":{"values":[0,0.2,0.4,0.6,0.8,1],"format":"~g","title":"(f) CO₂ vs z, 1800 s⁻1"}},
  "y":{"field":"v","type":"quantitative","scale":{"domain":[0,0.09],"nice":false},"axis":{"values":[0,0.01,0.02,0.03,0.04,0.05,0.06,0.07,0.08,0.09],"format":"~g","title":null}},
  "color":{"field":"s","type":"nominal","scale":{"domain":["s1","s2","s3","f"],"range":["#9a9a9a","#6e6e6e","#1e1e1e","#2a2a2a"]},"legend":null}},
 "layer":[{"transform":[{"filter":"datum.z <= 0.5"}],"mark":{"type":"line","strokeWidth":1.2,"interpolate":"monotone"}},{"transform":[{"filter":"datum.z >= 0.5"}],"mark":{"type":"line","strokeWidth":1.1,"strokeDash":[1.1,2.2]}},{"mark":{"type":"circle","size":4,"opacity":1}}]},
{"width":130,"height":86,"data":{"name":"g"},
 "encoding":{"x":{"field":"z","type":"quantitative","scale":{"domain":[0,1],"nice":false},"axis":{"values":[0,0.2,0.4,0.6,0.8,1],"format":"~g","title":"(g) CO vs z, 400 s⁻1"}},
  "y":{"field":"v","type":"quantitative","scale":{"domain":[0,0.06],"nice":false},"axis":{"values":[0,0.01,0.02,0.03,0.04,0.05,0.06],"format":"~g","title":null}},
  "color":{"field":"s","type":"nominal","scale":{"domain":["s1","s2","s3","f"],"range":["#9a9a9a","#6e6e6e","#1e1e1e","#2a2a2a"]},"legend":null}},
 "layer":[{"transform":[{"filter":"datum.z <= 0.5"}],"mark":{"type":"line","strokeWidth":1.5,"interpolate":"monotone"}},{"transform":[{"filter":"datum.z >= 0.5"}],"mark":{"type":"line","strokeWidth":1.4,"strokeDash":[1.4,2]}},{"mark":{"type":"circle","size":5,"opacity":1}}]},
{"width":130,"height":86,"data":{"name":"h"},
 "encoding":{"x":{"field":"z","type":"quantitative","scale":{"domain":[0,1],"nice":false},"axis":{"values":[0,0.2,0.4,0.6,0.8,1],"format":"~g","title":"(h) CO vs z, 1200 s⁻1"}},
  "y":{"field":"v","type":"quantitative","scale":{"domain":[0,0.06],"nice":false},"axis":{"values":[0,0.01,0.02,0.03,0.04,0.05,0.06],"format":"~g","title":null}},
  "color":{"field":"s","type":"nominal","scale":{"domain":["s1","s2","s3","f"],"range":["#9a9a9a","#6e6e6e","#1e1e1e","#2a2a2a"]},"legend":null}},
 "layer":[{"transform":[{"filter":"datum.z <= 0.5"}],"mark":{"type":"line","strokeWidth":1.2,"interpolate":"monotone"}},{"transform":[{"filter":"datum.z >= 0.5"}],"mark":{"type":"line","strokeWidth":1.1,"strokeDash":[1.1,2.2]}},{"mark":{"type":"circle","size":4,"opacity":1}}]},
{"width":130,"height":86,"data":{"name":"i"},
 "encoding":{"x":{"field":"z","type":"quantitative","scale":{"domain":[0,1],"nice":false},"axis":{"values":[0,0.2,0.4,0.6,0.8,1],"format":"~g","title":"(i) CO vs z, 1800 s⁻1"}},
  "y":{"field":"v","type":"quantitative","scale":{"domain":[0,0.05],"nice":false},"axis":{"values":[0,0.005,0.01,0.015,0.02,0.025,0.03,0.035,0.04,0.045,0.05],"format":"~g","title":null}},
  "color":{"field":"s","type":"nominal","scale":{"domain":["s1","s2","s3","f"],"range":["#9a9a9a","#6e6e6e","#1e1e1e","#2a2a2a"]},"legend":null}},
 "layer":[{"transform":[{"filter":"datum.z <= 0.5"}],"mark":{"type":"line","strokeWidth":1.2,"interpolate":"monotone"}},{"transform":[{"filter":"datum.z >= 0.5"}],"mark":{"type":"line","strokeWidth":1.1,"strokeDash":[1.1,2.2]}},{"mark":{"type":"circle","size":4,"opacity":1}}]}
],
"config":{
 "view":{"stroke":"#c9c9c9","strokeWidth":1},
 "axis":{"domain":false,"grid":false,"ticks":false,"labelFont":"Liberation Sans","labelFontSize":6.8,"labelColor":"#222","labelPadding":2,"labelOverlap":false,"labelFlush":false},
 "axisX":{"titleFont":"Liberation Serif","titleFontSize":10,"titleFontWeight":"normal","titleColor":"#111","titlePadding":1}
}
}
